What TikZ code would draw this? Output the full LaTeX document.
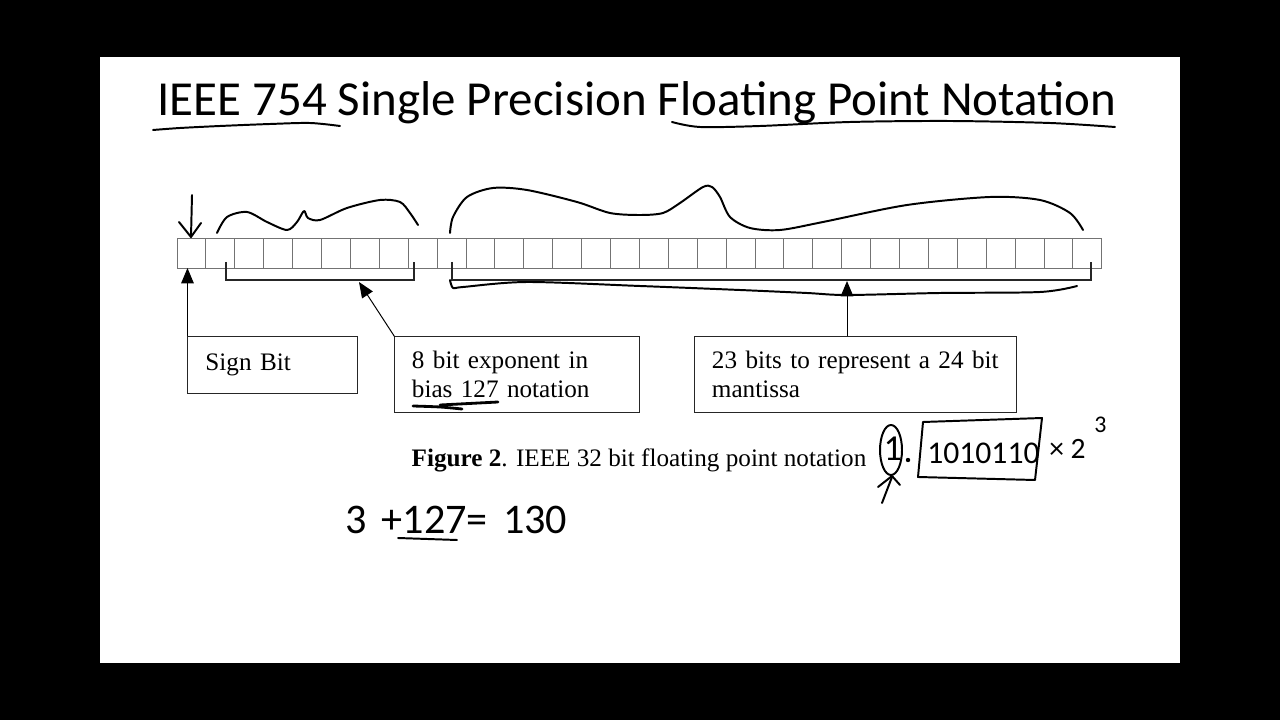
\documentclass[tikz,border=0pt]{standalone}
\usepackage{fontspec}
\setmainfont{Liberation Serif}
\newfontfamily\titlefont{Carlito}
\newfontfamily\handfont{Carlito}
\usetikzlibrary{shapes.geometric, arrows.meta}
\tikzstyle{cell} = [rectangle, draw=black!55, line width=0.6pt, minimum width=0.7225cm, minimum height=0.75cm, inner sep=0pt, outer sep=0pt]
\tikzstyle{textbox} = [rectangle, draw=black!85, line width=0.7pt, align=left, inner sep=0pt, font=\fontsize{17.9}{20.6}\selectfont]
\tikzstyle{arrow} = [line width=0.7pt, -{Triangle[length=11pt,width=9pt]}]
\tikzstyle{bracket} = [draw=black!85, line width=0.9pt]
\tikzstyle{pen} = [line width=1.4pt, line cap=round, line join=round]
\tikzstyle{hand} = [inner sep=0pt]

\begin{document}
\begin{tikzpicture}[x=0.025cm, y=-0.025cm]
\fill[black] (0,0) rectangle (1280,720);
\fill[white] (100,57) rectangle (1180,663);
\useasboundingbox (0,0) rectangle (1280,720);

% title
\node (title) [anchor=base, inner sep=0pt, font=\titlefont\fontsize{34.8}{40}\selectfont] at (637,116) {IEEE 754 Single Precision Floating Point Notation};

% the 32 bits
\foreach \i in {0,...,31}
  \node (c\i) [cell] at ({191.45+28.9*\i},253) {};

% brackets under exponent and mantissa
\draw [bracket] (226,262) -- (226,280) -- (414,280) -- (414,262);
\draw [bracket] (452,262) -- (452,280) -- (1091,280) -- (1091,262);

% boxes
\node (signbox) [textbox, minimum width=4.225cm, minimum height=1.4cm, text width=3.35cm] at (272.5,365) {Sign Bit};
\node (expbox) [textbox, minimum width=6.1cm, minimum height=1.875cm, text width=5.25cm] at (517,374.5) {8 bit exponent in\\bias 127 notation};
\node (manbox) [textbox, minimum width=8.025cm, minimum height=1.875cm, text width=7.175cm] at (855.5,374.5) {23 bits to represent a 24 bit\\mantissa};
\coordinate (exptip) at (359,282);
\coordinate (mantip) at (847,281);

\draw [arrow] (signbox.north west) -- (signbox.north west |- c0.south);
\draw [arrow] (expbox.north west) -- (exptip);
\draw [arrow] (manbox.north -| mantip) -- (mantip);

% caption
\node (caption) [anchor=base, inner sep=0pt, font=\fontsize{17.9}{20.6}\selectfont] at (639,466) {\textbf{Figure 2}. IEEE 32 bit floating point notation};

% handwritten notes
\draw [pen] plot[smooth] coordinates {(153,130) (180,128) (220,126) (270,124) (310,123) (340,126)};
\draw [pen] plot[smooth] coordinates {(672,122) (700,127) (760,126) (850,122) (950,121) (1050,123) (1115,127)};
\draw [pen] (192,195) -- (191,237);
\draw [pen] (179,222) -- (191,237) -- (201,223);
\draw [pen] plot[smooth] coordinates {(217,233) (227,217) (247,212) (267,222) (287,230) (297,222) (304,211) (308,218) (320,220) (347,208) (380,200) (400,202) (410,213) (418,225)};
\draw [pen] plot[smooth] coordinates {(450,233) (453,217) (467,197) (493,188) (527,190) (577,202) (610,213) (640,215) (663,213) (680,203) (703,187) (712,187) (720,197) (730,217) (750,228) (780,230) (823,222) (907,205) (990,197) (1040,200) (1070,213) (1083,230)};
\draw [pen] plot[smooth] coordinates {(450,280) (453,288) (463,287) (527,282) (640,286) (740,290) (807,293) (847,295) (940,293) (1040,292) (1077,286)};
\draw [pen, line width=2pt] plot[smooth] coordinates {(413,406) (440,407) (462,409)};
\draw [pen, line width=2pt] (440,405) -- (498,402);

\node (sum) [hand, anchor=base west, font=\handfont\fontsize{30}{34}\selectfont] at (345,533) {3\hspace{4pt} +127= \hspace{4pt}130};
\draw [pen] (398,538) -- (457,540);

\node (lead) [hand, font=\handfont\fontsize{26}{30}\selectfont] at (893,449) {1};
\draw [pen] (891,450) ellipse [x radius=11, y radius=25];
\fill (908,460) circle (2.2);
\node (frac) [hand, anchor=base west, font=\handfont\fontsize{22.5}{26}\selectfont] at (927,463) {1010110};
\draw [pen] (923,422) -- (1042,418) -- (1035,480) -- (918,477) -- cycle;
\node (base) [hand, anchor=base west, font=\handfont\fontsize{21}{25}\selectfont] at (1049,458) {× 2};
\node (power) [hand, anchor=base west, font=\handfont\fontsize{17}{20}\selectfont] at (1094,433) {3};
\coordinate (leadtail) at (882,503);
\draw [pen] (leadtail) -- (892,477);
\draw [pen] (878,487) -- (892,476) -- (900,485);
\end{tikzpicture}
\end{document}
